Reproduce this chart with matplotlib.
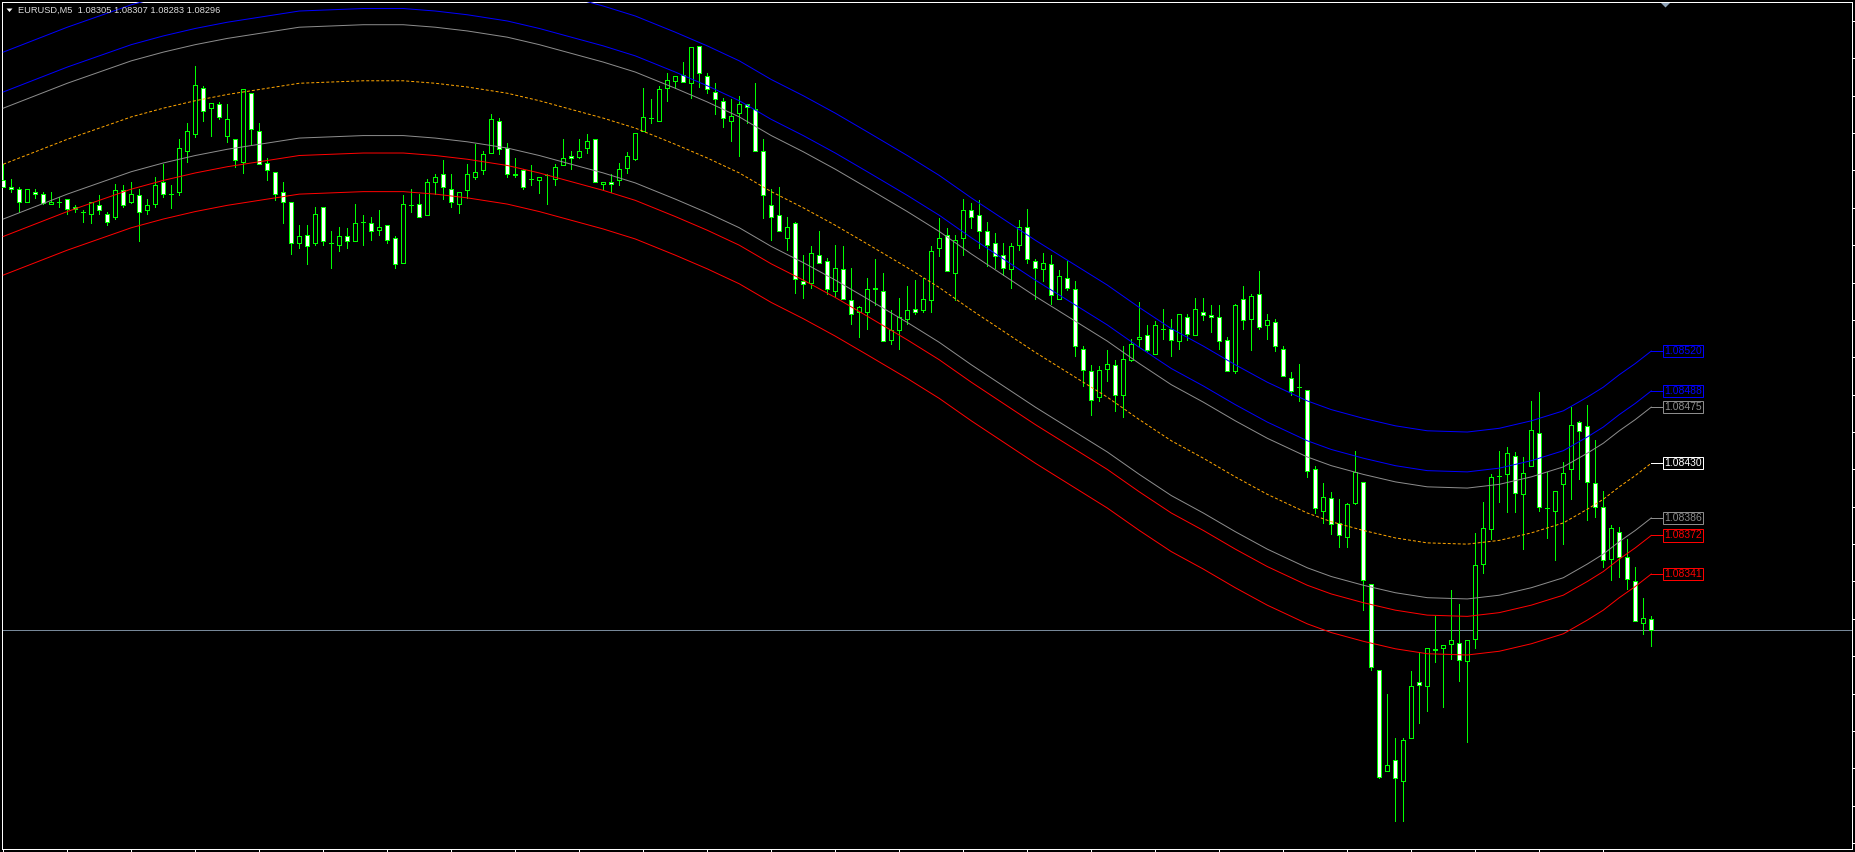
import matplotlib
matplotlib.use("Agg")
import matplotlib.pyplot as plt
from matplotlib.patches import Rectangle, Polygon

# ---------------- data ----------------
title_text = "EURUSD,M5  1.08305 1.08307 1.08283 1.08296"

opens = [1.08657,1.08652,1.08650,1.08640,1.08648,1.08646,1.08638,1.08640,1.08642,1.08636,
         1.08632,1.08630,1.08637,1.08630,1.08628,1.08649,1.08640,1.08645,1.08633,1.08638,
         1.08656,1.08646,1.08648,1.08681,1.08694,1.08731,1.08715,1.08718,1.08693,1.08690,
         1.08672,1.08727,1.08697,1.08671,1.08664,1.08648,1.08640,1.08607,1.08613,1.08607,
         1.08636,1.08607,1.08605,1.08612,1.08608,1.08624,1.08623,1.08617,1.08621,1.08611,
         1.08591,1.08637,1.08638,1.08629,1.08656,1.08662,1.08650,1.08638,1.08649,1.08660,
         1.08665,1.08679,1.08705,1.08683,1.08661,1.08665,1.08658,1.08657,1.08661,1.08658,
         1.08669,1.08677,1.08676,1.08683,1.08690,1.08654,1.08656,1.08657,1.08667,1.08674,
         1.08697,1.08707,1.08705,1.08731,1.08737,1.08742,1.08735,1.08765,1.08741,1.08728,
         1.08721,1.08705,1.08711,1.08718,1.08714,1.08681,1.08637,1.08629,1.08611,1.08623,
         1.08576,1.08575,1.08597,1.08592,1.08568,1.08586,1.08561,1.08551,1.08551,1.08571,
         1.08568,1.08529,1.08537,1.08546,1.08554,1.08553,1.08561,1.08603,1.08613,1.08583,
         1.08611,1.08633,1.08629,1.08616,1.08607,1.08597,1.08586,1.08605,1.08620,1.08592,
         1.08586,1.08590,1.08562,1.08579,1.08570,1.08522,1.08504,1.08483,1.08506,1.08509,
         1.08485,1.08513,1.08530,1.08533,1.08518,1.08538,1.08538,1.08528,1.08547,1.08533,
         1.08551,1.08549,1.08547,1.08529,1.08504,1.08562,1.08546,1.08566,1.08541,1.08543,
         1.08522,1.08498,1.08491,1.08489,1.08425,1.08392,1.08402,1.08382,1.08371,1.08398,
         1.08415,1.08333,1.08264,1.08183,1.08192,1.08175,1.08209,1.08254,1.08251,1.08280,
         1.08282,1.08285,1.08286,1.08271,1.08289,1.08349,1.08377,1.08420,1.08421,1.08436,
         1.08405,1.08428,1.08454,1.08394,1.08392,1.08413,1.08425,1.08463,1.08460,1.08414,
         1.08395,1.08353,1.08375,1.08355,1.08335,1.08302,1.08305]

highs = [1.08670,1.08658,1.08652,1.08650,1.08650,1.08648,1.08648,1.08644,1.08642,1.08637,
         1.08633,1.08640,1.08645,1.08632,1.08654,1.08653,1.08656,1.08650,1.08642,1.08660,
         1.08670,1.08653,1.08690,1.08703,1.08749,1.08733,1.08719,1.08720,1.08718,1.08690,
         1.08730,1.08727,1.08703,1.08675,1.08664,1.08656,1.08640,1.08621,1.08621,1.08636,
         1.08636,1.08616,1.08620,1.08619,1.08638,1.08629,1.08628,1.08633,1.08621,1.08612,
         1.08645,1.08650,1.08646,1.08658,1.08662,1.08673,1.08662,1.08648,1.08670,1.08686,
         1.08681,1.08710,1.08707,1.08687,1.08675,1.08666,1.08669,1.08660,1.08662,1.08670,
         1.08690,1.08681,1.08690,1.08694,1.08690,1.08656,1.08662,1.08671,1.08680,1.08695,
         1.08731,1.08722,1.08733,1.08743,1.08741,1.08752,1.08764,1.08765,1.08743,1.08735,
         1.08723,1.08722,1.08725,1.08718,1.08735,1.08690,1.08650,1.08652,1.08628,1.08624,
         1.08597,1.08604,1.08616,1.08595,1.08605,1.08604,1.08587,1.08556,1.08579,1.08594,
         1.08583,1.08553,1.08563,1.08572,1.08577,1.08579,1.08604,1.08627,1.08619,1.08613,
         1.08642,1.08639,1.08641,1.08624,1.08615,1.08607,1.08607,1.08625,1.08634,1.08594,
         1.08599,1.08597,1.08585,1.08592,1.08576,1.08524,1.08509,1.08508,1.08521,1.08513,
         1.08524,1.08530,1.08559,1.08541,1.08544,1.08554,1.08546,1.08550,1.08550,1.08563,
         1.08563,1.08557,1.08557,1.08531,1.08558,1.08572,1.08566,1.08584,1.08550,1.08546,
         1.08524,1.08503,1.08510,1.08489,1.08428,1.08414,1.08407,1.08401,1.08398,1.08440,
         1.08415,1.08333,1.08264,1.08245,1.08209,1.08209,1.08263,1.08278,1.08282,1.08307,
         1.08284,1.08328,1.08317,1.08288,1.08374,1.08399,1.08421,1.08440,1.08443,1.08439,
         1.08435,1.08480,1.08487,1.08423,1.08408,1.08431,1.08475,1.08464,1.08477,1.08449,
         1.08408,1.08380,1.08379,1.08369,1.08347,1.08322,1.08307]

lows = [1.08652,1.08648,1.08632,1.08640,1.08643,1.08638,1.08638,1.08636,1.08630,1.08632,
        1.08624,1.08623,1.08630,1.08621,1.08626,1.08636,1.08639,1.08608,1.08630,1.08636,
        1.08644,1.08635,1.08645,1.08672,1.08692,1.08705,1.08693,1.08706,1.08688,1.08668,
        1.08663,1.08686,1.08670,1.08657,1.08641,1.08623,1.08598,1.08603,1.08590,1.08605,
        1.08605,1.08587,1.08600,1.08603,1.08608,1.08605,1.08609,1.08613,1.08607,1.08587,
        1.08591,1.08632,1.08628,1.08629,1.08646,1.08642,1.08636,1.08631,1.08643,1.08658,
        1.08662,1.08679,1.08678,1.08660,1.08660,1.08650,1.08653,1.08647,1.08638,1.08653,
        1.08669,1.08666,1.08675,1.08679,1.08656,1.08650,1.08648,1.08653,1.08663,1.08673,
        1.08697,1.08703,1.08705,1.08721,1.08731,1.08736,1.08723,1.08732,1.08727,1.08710,
        1.08700,1.08689,1.08677,1.08703,1.08681,1.08627,1.08609,1.08616,1.08601,1.08567,
        1.08563,1.08571,1.08591,1.08566,1.08564,1.08562,1.08542,1.08531,1.08538,1.08557,
        1.08528,1.08526,1.08522,1.08542,1.08550,1.08551,1.08551,1.08596,1.08584,1.08561,
        1.08597,1.08619,1.08603,1.08588,1.08587,1.08581,1.08571,1.08601,1.08591,1.08562,
        1.08576,1.08558,1.08562,1.08569,1.08516,1.08492,1.08469,1.08480,1.08496,1.08472,
        1.08467,1.08512,1.08524,1.08520,1.08518,1.08530,1.08516,1.08522,1.08529,1.08533,
        1.08545,1.08535,1.08522,1.08504,1.08502,1.08538,1.08521,1.08538,1.08530,1.08520,
        1.08500,1.08485,1.08480,1.08419,1.08390,1.08382,1.08373,1.08363,1.08363,1.08397,
        1.08312,1.08264,1.08177,1.08183,1.08143,1.08143,1.08209,1.08221,1.08231,1.08270,
        1.08234,1.08273,1.08255,1.08206,1.08282,1.08342,1.08369,1.08399,1.08391,1.08391,
        1.08361,1.08428,1.08392,1.08370,1.08352,1.08365,1.08401,1.08417,1.08384,1.08387,
        1.08347,1.08336,1.08339,1.08329,1.08303,1.08293,1.08283]

closes = [1.08652,1.08650,1.08640,1.08650,1.08646,1.08639,1.08640,1.08640,1.08634,1.08634,
          1.08632,1.08640,1.08633,1.08624,1.08649,1.08637,1.08646,1.08632,1.08637,1.08653,
          1.08646,1.08646,1.08683,1.08697,1.08734,1.08713,1.08719,1.08708,1.08706,1.08673,
          1.08730,1.08698,1.08670,1.08665,1.08646,1.08640,1.08607,1.08612,1.08604,1.08630,
          1.08608,1.08607,1.08612,1.08608,1.08623,1.08624,1.08616,1.08620,1.08609,1.08590,
          1.08638,1.08637,1.08628,1.08656,1.08660,1.08652,1.08640,1.08648,1.08662,1.08664,
          1.08678,1.08706,1.08682,1.08662,1.08662,1.08652,1.08658,1.08660,1.08661,1.08668,
          1.08675,1.08675,1.08681,1.08689,1.08656,1.08656,1.08654,1.08666,1.08677,1.08695,
          1.08708,1.08707,1.08730,1.08738,1.08741,1.08736,1.08764,1.08743,1.08730,1.08722,
          1.08707,1.08709,1.08718,1.08716,1.08681,1.08645,1.08628,1.08616,1.08620,1.08578,
          1.08574,1.08599,1.08591,1.08570,1.08587,1.08562,1.08550,1.08555,1.08570,1.08570,
          1.08528,1.08537,1.08547,1.08553,1.08551,1.08562,1.08600,1.08611,1.08584,1.08609,
          1.08633,1.08628,1.08616,1.08605,1.08596,1.08587,1.08604,1.08620,1.08594,1.08587,
          1.08591,1.08565,1.08580,1.08571,1.08524,1.08505,1.08481,1.08505,1.08510,1.08485,
          1.08514,1.08526,1.08531,1.08521,1.08541,1.08538,1.08529,1.08550,1.08534,1.08554,
          1.08549,1.08547,1.08528,1.08504,1.08557,1.08545,1.08564,1.08539,1.08545,1.08524,
          1.08500,1.08488,1.08491,1.08424,1.08394,1.08403,1.08381,1.08372,1.08397,1.08423,
          1.08336,1.08266,1.08178,1.08188,1.08177,1.08208,1.08251,1.08252,1.08282,1.08281,
          1.08284,1.08288,1.08272,1.08288,1.08348,1.08378,1.08419,1.08420,1.08438,1.08406,
          1.08422,1.08457,1.08395,1.08394,1.08408,1.08422,1.08461,1.08456,1.08415,1.08395,
          1.08352,1.08378,1.08355,1.08337,1.08303,1.08306,1.08296]

# centre (dotted orange) line of the band indicator, sampled at bar indices
mid_idx = [0, 4, 8, 12, 16, 20, 24, 28, 33, 37, 41, 45, 50, 54, 58, 63, 67, 71, 75, 79,
           84, 88, 92, 96, 100, 104, 108, 113, 117, 121, 125, 129, 133, 138, 142, 146,
           150, 154, 158, 163, 166, 170, 174, 178, 183, 187, 191, 195, 198, 200, 202, 204, 206]
mid_val = [1.08670, 1.08680, 1.08690, 1.08699, 1.08708, 1.08715, 1.08721, 1.08726, 1.08731,
           1.08735, 1.08736, 1.08737, 1.08737, 1.08735, 1.08732, 1.08727, 1.08721, 1.08714,
           1.08707, 1.08699, 1.08686, 1.08675, 1.08663, 1.08648, 1.08635, 1.08621, 1.08606,
           1.08587, 1.08571, 1.08553, 1.08536, 1.08519, 1.08503, 1.08483, 1.08465, 1.08448,
           1.08434, 1.08419, 1.08405, 1.08390, 1.08383, 1.08376, 1.08370, 1.08366, 1.08365,
           1.08368, 1.08374, 1.08382, 1.08393, 1.08401, 1.08411, 1.08420, 1.08430]

band_labels = [1.08520, 1.08488, 1.08475, 1.08430, 1.08386, 1.08372, 1.08341]
band_line_colors = ['#0000ff', '#0000ff', '#8c8c8c', '#ffa500', '#8c8c8c', '#ff0000', '#ff0000']
band_label_colors = ['#0000ff', '#0000ff', '#8c8c8c', '#ffffff', '#8c8c8c', '#ff0000', '#ff0000']
mid_label_index = 3
bid_price = 1.08296

# ---------------- figure ----------------
W, H, DPI = 1855, 852, 100
PX = 72.0 / DPI
plt.rcParams['lines.scale_dashes'] = False

fig = plt.figure(figsize=(W / DPI, H / DPI), dpi=DPI, facecolor='black')
ax = fig.add_axes([2 / W, (H - 849.3) / H, 1850 / W, 847.0 / H])
ax.set_facecolor('black')
ax.set_xlim(-0.16, 231.09)

for s in ax.spines.values():
    s.set_color('white')
    s.set_linewidth(PX)

ax.set_xticks(list(range(0, 201, 8)))
ax.yaxis.tick_right()
ax.set_yticks([1.08125 + 0.0003 * i for i in range(23)])
ax.tick_params(axis='both', direction='out', length=3 * PX, width=PX, color='white',
               labelbottom=False, labelright=False, labelleft=False)
ax.set_ylim(1.08120, 1.08800)

# bid line
ax.axhline(bid_price, color='#778899', lw=PX, zorder=1.5)

# candles
n = len(opens)
xs = list(range(n))
ax.vlines(xs, lows, highs, colors='#00ff00', linewidth=PX, antialiased=False, zorder=2)
for i in range(n):
    o, c = opens[i], closes[i]
    fc = '#ffffff' if c < o else '#000000'
    ax.add_patch(Rectangle((i - 0.25, min(o, c)), 0.5, abs(c - o), facecolor=fc,
                           edgecolor='#00ff00', linewidth=PX, antialiased=False, zorder=3))

# bands
mid_ref = band_labels[mid_label_index]
for j, (lab, lc, tc) in enumerate(zip(band_labels, band_line_colors, band_label_colors)):
    off = lab - mid_ref
    vals = [v + off for v in mid_val]
    if j == mid_label_index:
        ax.plot(mid_idx, vals, color=lc, lw=PX, dashes=(3 * PX, 2 * PX), zorder=4)
    else:
        ax.plot(mid_idx, vals, color=lc, lw=PX, zorder=4)
    ax.plot([mid_idx[-1], 207.4], [lab, lab], color=tc, lw=PX, zorder=4, clip_on=False)
    ax.text(207.6, lab, f"{lab:.5f}", color=tc, fontsize=7.5, family='Liberation Sans',
            va='center', ha='left', zorder=6,
            bbox=dict(boxstyle='square,pad=0.12', fc='black', ec=tc, lw=PX))

# header text and markers
fig.text(18.3 / W, 1 - 10.7 / H, title_text, color='#dcdcdc', fontsize=6.7,
         family='Liberation Sans', va='center', ha='left')
fig.patches.append(Polygon([(6.5 / W, 1 - 8.5 / H), (12.5 / W, 1 - 8.5 / H), (9.5 / W, 1 - 12 / H)],
                           closed=True, transform=fig.transFigure, fc='white', ec='none'))
fig.patches.append(Polygon([(1661 / W, 1 - 3 / H), (1670 / W, 1 - 3 / H), (1665.5 / W, 1 - 7.5 / H)],
                           closed=True, transform=fig.transFigure, fc='#8fa3b8', ec='none'))

fig.savefig('out.png', dpi=DPI, facecolor='black')
